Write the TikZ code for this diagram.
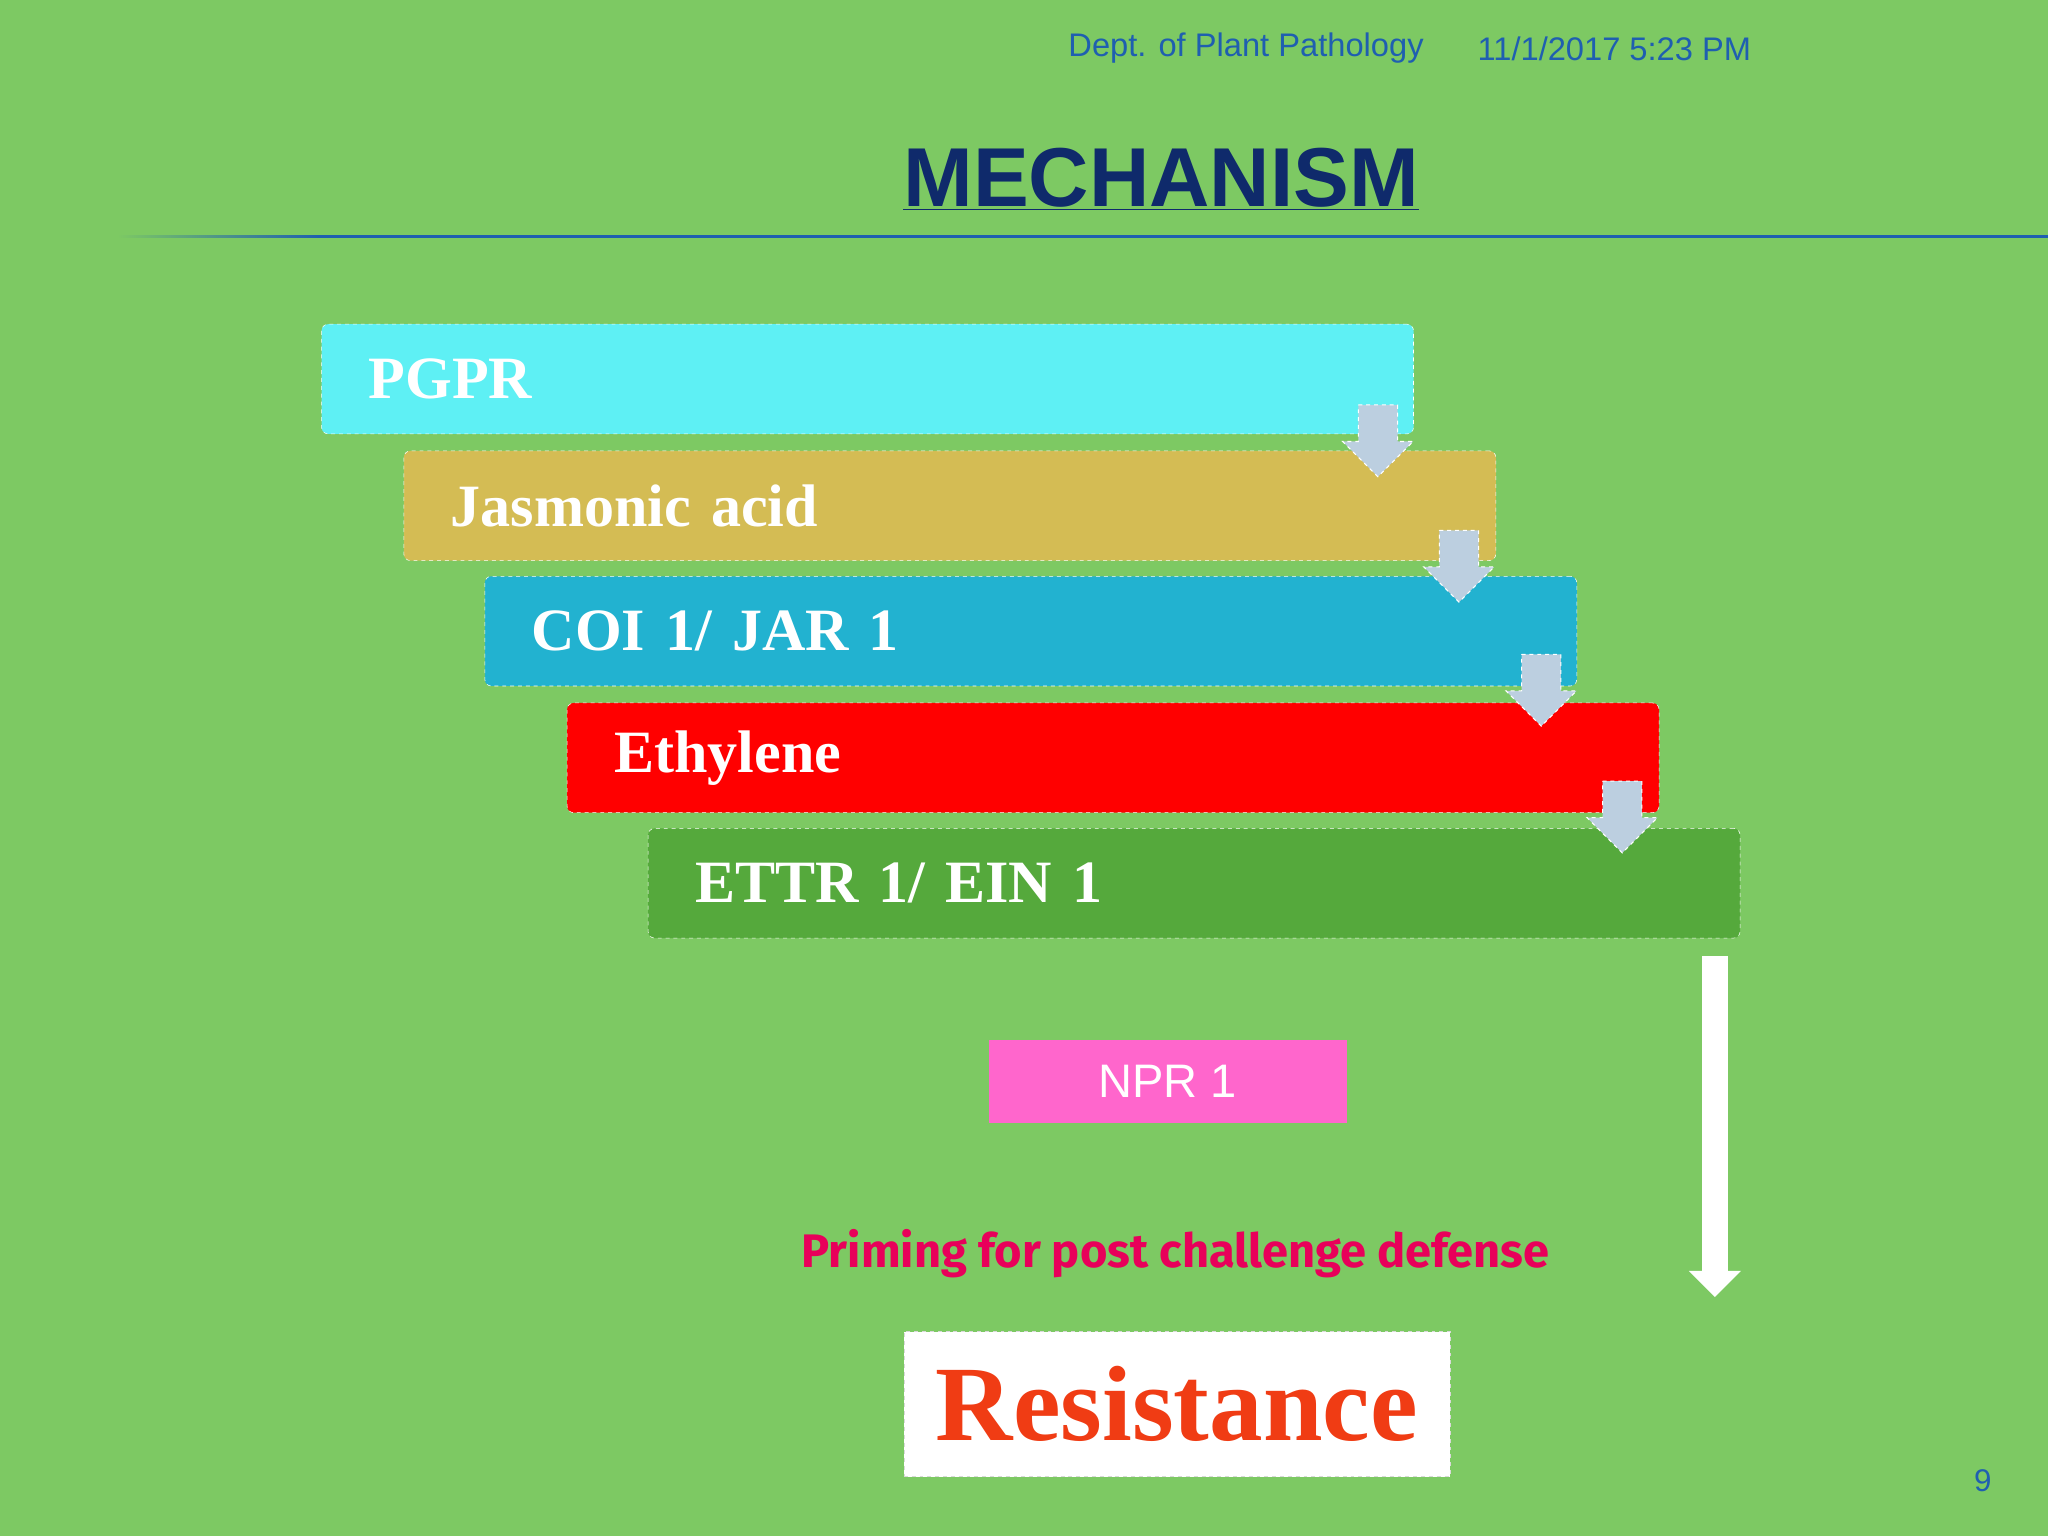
\documentclass[tikz,border=0pt]{standalone}
\usepackage{fontspec}
\setmainfont{Liberation Serif}
\setsansfont{Liberation Sans}
\newfontfamily\primfont{Fira Sans}
\definecolor{bg}{HTML}{7DC963}
\definecolor{navy}{HTML}{0F2A6B}
\definecolor{hblue}{HTML}{1F5FB0}
\definecolor{cPG}{HTML}{5EF0F4}
\definecolor{cJA}{HTML}{D4BC54}
\definecolor{cCO}{HTML}{22B2D0}
\definecolor{cET}{HTML}{FF0000}
\definecolor{cEI}{HTML}{55A93C}
\definecolor{arr}{HTML}{BCCFE0}
\definecolor{npr}{HTML}{FF66CC}
\definecolor{prim}{HTML}{E8005A}
\definecolor{res}{HTML}{F03C14}
\begin{document}
\begin{tikzpicture}[x=1pt,y=-1pt,
  stepbox/.style={draw=white,dashed,rounded corners=5pt,minimum width=836pt,minimum height=84pt,
    anchor=north west,inner sep=0pt,text=white,font=\fontsize{46}{50}\selectfont\bfseries,
    align=left,text width=800pt},
  minarrow/.style={fill=arr,draw=white,dashed,line width=0.8pt}]
\fill[bg] (0,0) rectangle (1568,1176);
\useasboundingbox (0,0) rectangle (1568,1176);
\node[text=hblue,font=\sffamily\fontsize{25}{28}\selectfont] (dept) at (954,37) {Dept. of Plant Pathology};
\node[text=hblue,font=\sffamily\fontsize{25}{28}\selectfont] (date) at (1236,37) {11/1/2017 5:23 PM};
\node[text=navy,font=\sffamily\bfseries\fontsize{64}{70}\selectfont] (title) at (889,137) {\underline{MECHANISM}};
\shade[left color=bg,right color=hblue,middle color=hblue] (90,180) rectangle (400,182);
\fill[hblue] (400,180) rectangle (1568,182);
\node[stepbox,fill=cPG] (b1) at (246,248) {\hspace*{18pt}PGPR};
\node[stepbox,fill=cJA] (b2) at (309,345) {\hspace*{18pt}Jasmonic acid};
\node[stepbox,fill=cCO] (b3) at (371,441) {\hspace*{18pt}COI 1/ JAR 1};
\node[stepbox,fill=cET] (b4) at (434,538) {\hspace*{18pt}Ethylene};
\node[stepbox,fill=cEI] (b5) at (496,634) {\hspace*{18pt}ETTR 1/ EIN 1};
\foreach \x/\y in {1055/310,1117/406,1180/501,1242/598}{
  \draw[minarrow] (\x-15,\y) -- (\x+15,\y) -- (\x+15,\y+28) -- (\x+27,\y+28) -- (\x,\y+55) -- (\x-27,\y+28) -- (\x-15,\y+28) -- cycle;}
\node[fill=npr,minimum width=274pt,minimum height=63pt,text=white,font=\sffamily\fontsize{36}{40}\selectfont] (npr) at (894,828) {NPR 1};
\coordinate (as) at (1313,732);
\coordinate (ae) at (1313,993);
\fill[white] (1303,732) rectangle (1323,975);
\fill[white] (1293,973) -- (1333,973) -- (1313,993) -- cycle;
\node[text=prim,font=\primfont\bfseries\fontsize{36}{40}\selectfont] (prim) at (900,960) {Priming for post challenge defense};
\node[fill=white,draw=white!85!black,dashed,minimum width=418pt,minimum height=111pt,text=res,
  font=\bfseries\fontsize{82}{90}\selectfont] (res) at (901,1075) {Resistance};
\node[text=hblue,font=\sffamily\fontsize{24}{28}\selectfont] (pg) at (1518,1134) {9};
\end{tikzpicture}
\end{document}
